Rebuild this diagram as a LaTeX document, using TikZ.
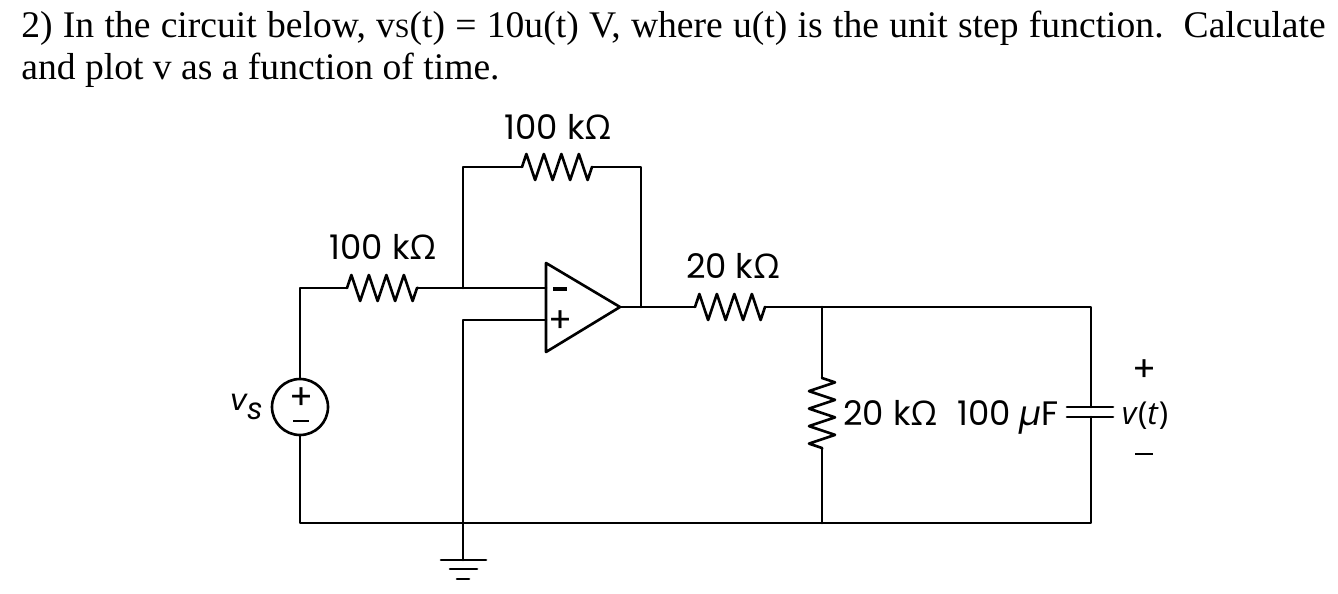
\documentclass[tikz,border=0pt]{standalone}
\usepackage{fontspec}
\setmainfont{Liberation Serif}
\newfontfamily\valuefont{Poppins}
\newfontfamily\ohmfont{Open Sans}
\usetikzlibrary{decorations.pathmorphing}
\newcommand{\kohm}[1]{#1 k{\ohmfont\char"03A9}}
\tikzset{
	wire/.style={line width=1.5pt,line cap=round,line join=round},
	resistor/.style={wire,decorate,decoration={zigzag,amplitude=0.26cm,segment length=0.35cm}},
	heading/.style={anchor=base west,inner sep=0,font=\fontsize{21.4pt}{25pt}\selectfont},
	value/.style={inner sep=0,font=\valuefont\fontsize{19.3pt}{22pt}\selectfont},
	sign/.style={inner sep=0,font=\valuefont\fontsize{20pt}{22pt}\selectfont},
}
\begin{document}
\begin{tikzpicture}[x=0.02cm,y=-0.02cm]
	\useasboundingbox (0,0) rectangle (1338,594);
	% question
	\node[heading] (line1) at (21,38) {\spaceskip=5.85pt 2) In the circuit below, v{\fontsize{15pt}{17pt}\selectfont S}(t) = 10u(t) V, where u(t) is the unit step function.\hspace{11.4pt}Calculate};
	\node[heading] (line2) at (21,80) {and plot v as a function of time.};
	
	% junctions
	\coordinate (inL) at (300,288);
	\coordinate (r1a) at (347,288);
	\coordinate (r1b) at (418,288);
	\coordinate (minus) at (463,288);
	\coordinate (fbL) at (463,167);
	\coordinate (r2a) at (522,167);
	\coordinate (r2b) at (592,167);
	\coordinate (fbR) at (641,167);
	\coordinate (oaMinus) at (546,288);
	\coordinate (oaPlus) at (546,320);
	\coordinate (plusL) at (463,320);
	\coordinate (oaTop) at (546,263);
	\coordinate (oaBot) at (546,352);
	\coordinate (oaOut) at (620,307);
	\coordinate (fbOut) at (641,307);
	\coordinate (r3a) at (695,307);
	\coordinate (r3b) at (765,307);
	\coordinate (top) at (822,307);
	\coordinate (topR) at (1091,307);
	\coordinate (r4a) at (822,378);
	\coordinate (r4b) at (822,449);
	\coordinate (bot) at (822,523);
	\coordinate (botR) at (1091,523);
	\coordinate (botL) at (300,523);
	\coordinate (gndTop) at (463,523);
	\coordinate (gnd) at (463,560);
	\coordinate (capA) at (1091,407);
	\coordinate (capB) at (1091,417);
	
	% source
	\node[circle,draw,wire,minimum size=1.12cm,inner sep=0] (vs) at (300,407) {};
	\node[sign] (vsPlus) at (301,399) {+};
	\node[inner sep=0] (vsMinus) at (301,421) {\rule{0.32cm}{1.5pt}};
	\node[inner sep=0,font=\valuefont\fontsize{17pt}{20pt}\selectfont] (vsLabel) at (247,407) {\textit{v\raisebox{-0.6ex}{s}}};
	
	% wires
	\draw[wire] (vs.north) -- (inL) -- (r1a);
	\draw[resistor] (r1a) -- (r1b);
	\draw[wire] (r1b) -- (minus) -- (oaMinus);
	\draw[wire] (minus) -- (fbL) -- (r2a);
	\draw[resistor] (r2a) -- (r2b);
	\draw[wire] (r2b) -- (fbR) -- (fbOut);
	\draw[wire] (oaPlus) -- (plusL) -- (gndTop);
	\draw[wire] (oaTop) -- (oaOut) -- (oaBot) -- cycle;
	\draw[wire] (oaOut) -- (fbOut) -- (r3a);
	\draw[resistor] (r3a) -- (r3b);
	\draw[wire] (r3b) -- (top) -- (topR) -- (capA);
	\draw[wire] (top) -- (r4a);
	\draw[resistor] (r4a) -- (r4b);
	\draw[wire] (r4b) -- (bot);
	\draw[wire] (vs.south) -- (botL) -- (gndTop) -- (bot) -- (botR) -- (capB);
	\draw[wire] (gndTop) -- (gnd);
	
	% capacitor
	\draw[wire] (1067,407) -- (capA) -- (1113,407);
	\draw[wire] (1067,417) -- (capB) -- (1113,417);
	
	% ground
	\draw[wire] (441,560) -- (gnd) -- (486,560);
	\draw[wire] (450,569) -- (477,569);
	\draw[wire] (457,579) -- (469,579);
	
	% op amp signs
	\node[inner sep=0] (oaM) at (560,289) {\rule{0.28cm}{2pt}};
	\node[sign] (oaP) at (560,322) {+};
	
	% labels
	\node[value] (r2label) at (558,127) {\kohm{100}};
	\node[value] (r1label) at (383,247) {\kohm{100}};
	\node[value] (r3label) at (733,266) {\kohm{20}};
	\node[value,anchor=base west] (r4label) at (843,425) {\kohm{20}};
	\node[value,anchor=base west] (capLabel) at (957,425) {100 \textit{µ}F};
	\node[sign] (vPlus) at (1144,371) {+};
	\node[inner sep=0,anchor=base,font=\ohmfont\fontsize{18pt}{20pt}\selectfont] (vLabel) at (1145,424) {\textit{v}(\textit{t})};
	\node[inner sep=0] (vMinus) at (1144,454) {\rule{0.36cm}{1.5pt}};
\end{tikzpicture}
\end{document}
